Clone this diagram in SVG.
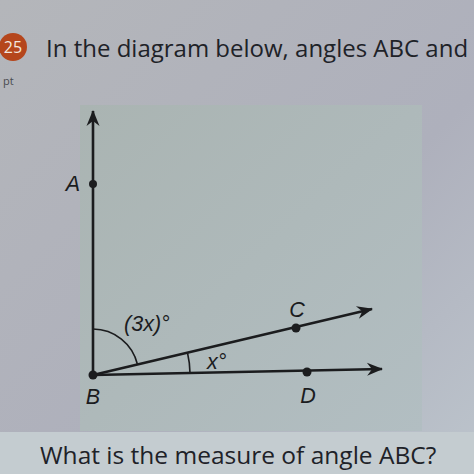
<svg xmlns="http://www.w3.org/2000/svg" width="474" height="474" viewBox="0 0 474 474">
  <defs>
    <linearGradient id="bg" x1="0" y1="0" x2="1" y2="1">
      <stop offset="0" stop-color="#b4b6ba"/>
      <stop offset="0.6" stop-color="#aeb0bc"/>
      <stop offset="1" stop-color="#bcc4cc"/>
    </linearGradient>
    <linearGradient id="panel" x1="0" y1="0" x2="1" y2="1">
      <stop offset="0" stop-color="#aab4b2"/>
      <stop offset="1" stop-color="#b2bec2"/>
    </linearGradient>
    <marker id="arrow" viewBox="-16 -8 18 16" markerWidth="18" markerHeight="16" refX="0" refY="0" orient="auto" markerUnits="userSpaceOnUse">
      <path d="M1,0 L-15,-6.5 L-10,0 L-15,6.5 Z" fill="#1b1c1e"/>
    </marker>
    <style>
      .ray { stroke:#1b1c1e; stroke-width:2.6; fill:none; }
      .arc { stroke:#1b1c1e; stroke-width:1.6; fill:none; }
      .dot { fill:#1b1c1e; }
      .lbl { font-family:"Liberation Sans", Arial, sans-serif; font-style:italic; font-size:21.5px; fill:#1b1c1e; }
      .hdr { font-family:"Open Sans", "Noto Sans", sans-serif; fill:#1e2228; }
    </style>
  </defs>

  <rect x="0" y="0" width="474" height="474" fill="url(#bg)"/>
  <rect x="0" y="432" width="474" height="42" fill="#c4ccd0"/>
  <rect x="80" y="105" width="342" height="326" fill="url(#panel)"/>

  <g id="header">
    <circle cx="13" cy="47" r="14" fill="#b5461c"/>
    <text x="13" y="53" text-anchor="middle" font-family="Open Sans, sans-serif" font-size="16" fill="#f3e6df">25</text>
    <text x="3" y="85" font-family="Open Sans, sans-serif" font-size="11" fill="#4a4c50">pt</text>
    <text class="hdr" x="46" y="57" font-size="24">In the diagram below, angles ABC and</text>
  </g>

  <g id="connectors">
    <line class="ray" x1="93" y1="375" x2="93" y2="111" marker-end="url(#arrow)"/>
    <line class="ray" x1="93" y1="375" x2="372" y2="309" marker-end="url(#arrow)"/>
    <line class="ray" x1="93" y1="375" x2="382" y2="369" marker-end="url(#arrow)"/>
    <path class="arc" d="M93,329 A46,46 0 0 1 137.5,364.5"/>
    <path class="arc" d="M190,373 A97,97 0 0 0 187.5,352.7"/>
  </g>

  <g id="node-A">
    <circle class="dot" cx="93" cy="184" r="4"/>
    <text class="lbl" x="73" y="191" text-anchor="middle">A</text>
  </g>
  <g id="node-B">
    <circle class="dot" cx="93" cy="375" r="4.5" fill="#3a1c1c"/>
    <text class="lbl" x="93" y="404" text-anchor="middle">B</text>
  </g>
  <g id="node-C">
    <circle class="dot" cx="296" cy="328" r="4.5"/>
    <text class="lbl" x="297" y="317" text-anchor="middle" font-style="normal">C</text>
  </g>
  <g id="node-D">
    <circle class="dot" cx="307" cy="372" r="4.5"/>
    <text class="lbl" x="308" y="403" text-anchor="middle">D</text>
  </g>

  <g id="angle-labels">
    <text class="lbl" x="124" y="331" font-style="normal">(3<tspan font-style="italic">x</tspan>)°</text>
    <text class="lbl" x="207" y="369">x°</text>
  </g>

  <g id="footer">
    <text class="hdr" x="40" y="464" font-size="24.5">What is the measure of angle ABC?</text>
  </g>
</svg>
